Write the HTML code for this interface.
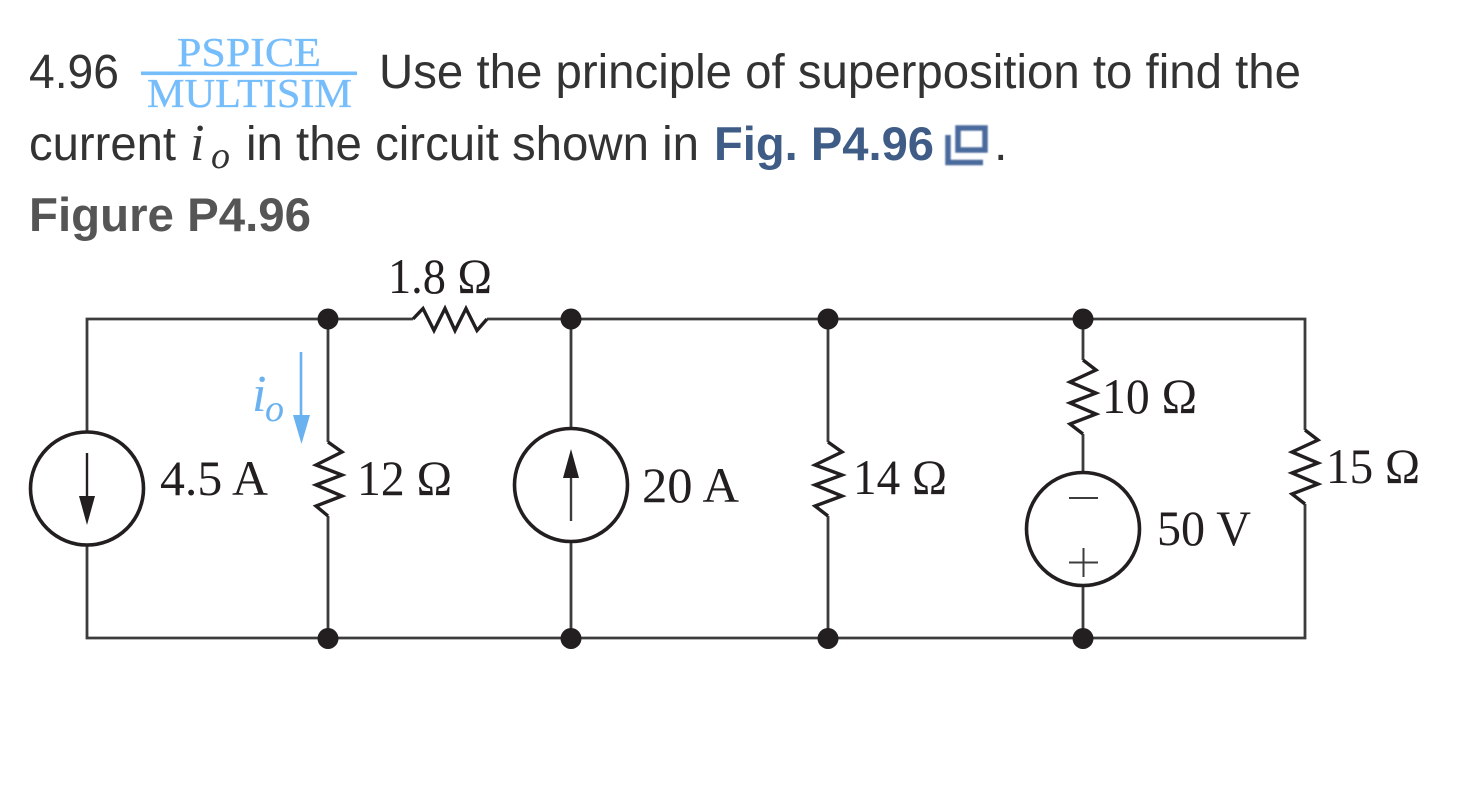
<!DOCTYPE html>
<html><head><meta charset="utf-8"><style>
html,body{margin:0;padding:0;background:#fff;width:1459px;height:795px;overflow:hidden}
svg{display:block}
.s{font-family:"Liberation Sans",sans-serif;font-size:48.5px;fill:#333}
.b{font-family:"Liberation Sans",sans-serif;font-size:47.5px;font-weight:bold}
.m{font-family:"Liberation Serif",serif;fill:#76bdfb;stroke:#76bdfb;stroke-width:.3;font-size:41.5px}
.t{font-family:"Liberation Serif",serif;fill:#231f20;font-size:50px}
.i{font-family:"Liberation Serif",serif;font-style:italic}
.w{fill:none;stroke:#3c3c3c;stroke-width:2.8}
.r{fill:none;stroke:#231f20;stroke-width:3.4;stroke-linejoin:miter}
.c{fill:#fff;stroke:#231f20;stroke-width:3.6}
</style></head><body>
<svg width="1459" height="795" viewBox="0 0 1459 795" xmlns="http://www.w3.org/2000/svg">
<defs><filter id="bl" x="-20%" y="-20%" width="140%" height="140%"><feGaussianBlur stdDeviation="0.8"/></filter></defs>
<rect width="1459" height="795" fill="#fff"/>
<text class="s" x="29" y="88" textLength="90" lengthAdjust="spacingAndGlyphs">4.96</text>
<text class="m" x="177" y="66" textLength="144" lengthAdjust="spacingAndGlyphs">PSPICE</text>
<rect x="141" y="71.500" width="216" height="3.6" fill="#76bdfb"/>
<text class="m" x="147" y="107" textLength="205" lengthAdjust="spacingAndGlyphs">MULTISIM</text>
<text class="s" x="379" y="88" textLength="922" lengthAdjust="spacingAndGlyphs">Use the principle of superposition to find the</text>
<text class="s" x="29" y="160" textLength="147" lengthAdjust="spacingAndGlyphs">current</text>
<text class="i" x="190" y="160" font-size="52" fill="#333">i</text>
<text class="i" x="211" y="168" font-size="38" fill="#333">o</text>
<text class="s" x="246" y="160" textLength="453" lengthAdjust="spacingAndGlyphs">in the circuit shown in</text>
<text class="b" x="714" y="160" fill="#3f5c87" textLength="220" lengthAdjust="spacingAndGlyphs">Fig. P4.96</text>
<g fill="none" stroke="#4a6b9c" stroke-width="5.500" filter="url(#bl)">
<rect x="958" y="128" width="27" height="22"/>
<path d="M948 135V162.500H983"/>
</g>
<text class="s" x="994" y="160">.</text>
<text class="b" x="29" y="231" fill="#555" textLength="282" lengthAdjust="spacingAndGlyphs">Figure P4.96</text>

<path class="w" d="M87 432V319H413M487 319H1305V430M1305 504V638H87V545M328 319V442M328 516V638M571 319V428M571 543V638M828 319V442M828 516V638M1083 319V360M1083 434V472M1083 586V638"/>

<path class="r" d="M413 319 423 308.500 434 330.500 445 308.500 455 330.500 466 308.500 477 330.500 487 319"/>
<path class="r" d="M328 442 342 452 316 465 342 475 316 485 342 496 316 506 328 516"/>
<path class="r" d="M828 442 842 452 815 465 842 475 815 485 842 496 815 506 828 516"/>
<path class="r" d="M1083 360 1096 370 1070 382 1096 393 1070 403 1096 414 1070 424 1083 434"/>
<path class="r" d="M1305 430 1318 440 1292 452 1318 463 1292 473 1318 484 1292 494 1305 504"/>

<circle class="c" cx="87" cy="488.500" r="56.500"/>
<path d="M87 453V500" stroke="#231f20" stroke-width="2.400"/>
<path d="M79 496H95L87 525Z" fill="#231f20"/>
<circle class="c" cx="571" cy="485" r="56.500"/>
<path d="M571 521V475" stroke="#3c3c3c" stroke-width="2.400"/>
<path d="M563 478H579L571 449Z" fill="#231f20"/>
<circle class="c" cx="1083" cy="529" r="56.500"/>
<path d="M1069 498H1098M1069 562.500H1098M1083.500 548V577" stroke="#3c3c3c" stroke-width="2"/>

<g fill="#231f20">
<circle cx="328" cy="319" r="10.500"/><circle cx="571" cy="319" r="10.500"/><circle cx="828" cy="319" r="10.500"/><circle cx="1083" cy="319" r="10.500"/>
<circle cx="328" cy="638.500" r="10.500"/><circle cx="571" cy="638.500" r="10.500"/><circle cx="828" cy="638.500" r="10.500"/><circle cx="1083" cy="638.500" r="10.500"/>
</g>

<path d="M301 352V420" stroke="#69b2ef" stroke-width="2.600"/>
<path d="M293 415H310L301.500 444Z" fill="#69b2ef"/>
<text class="i" x="252" y="411" font-size="52" fill="#69b2ef">i</text>
<text class="i" x="265" y="421" font-size="38" fill="#69b2ef">o</text>

<text class="t" x="388" y="293" textLength="104" lengthAdjust="spacingAndGlyphs">1.8 Ω</text>
<text class="t" x="160" y="495" textLength="108" lengthAdjust="spacingAndGlyphs">4.5 A</text>
<text class="t" x="357" y="495" textLength="95" lengthAdjust="spacingAndGlyphs">12 Ω</text>
<text class="t" x="642" y="502" textLength="97" lengthAdjust="spacingAndGlyphs">20 A</text>
<text class="t" x="853" y="494" textLength="94" lengthAdjust="spacingAndGlyphs">14 Ω</text>
<text class="t" x="1102" y="413" textLength="95" lengthAdjust="spacingAndGlyphs">10 Ω</text>
<text class="t" x="1326" y="483" textLength="94" lengthAdjust="spacingAndGlyphs">15 Ω</text>
<text class="t" x="1157" y="545" textLength="94" lengthAdjust="spacingAndGlyphs">50 V</text>
</svg>
</body></html>
